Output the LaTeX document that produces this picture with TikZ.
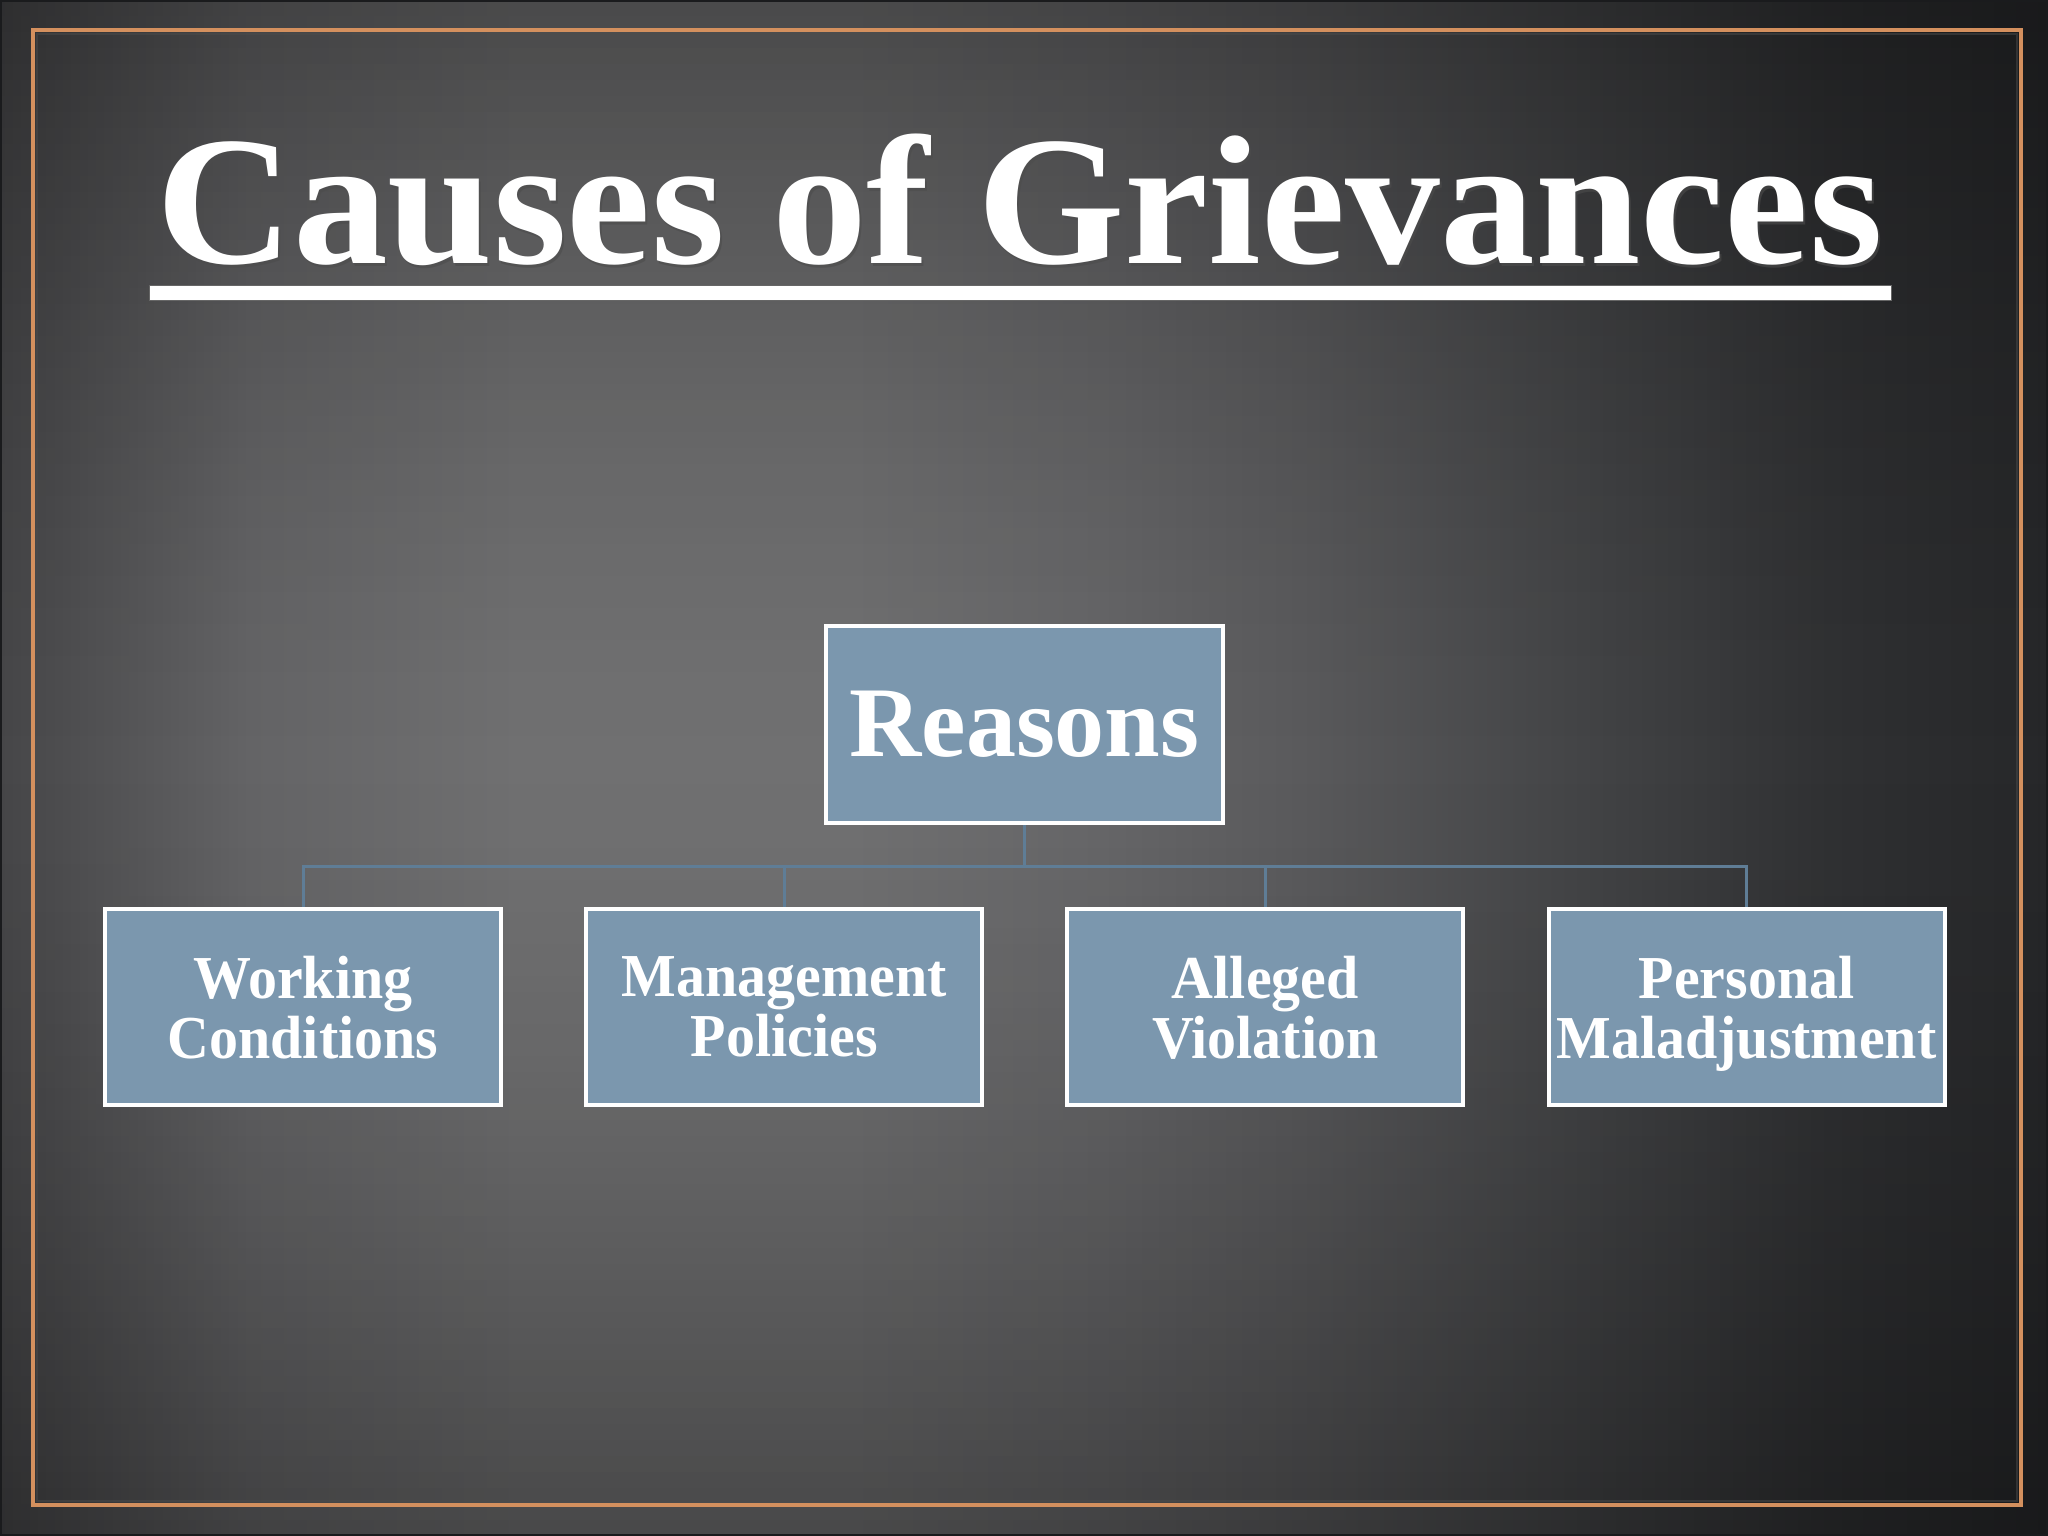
\documentclass[tikz,border=0pt]{standalone}
\usepackage{fontspec}
\setmainfont{Liberation Serif}
\newfontfamily\condserif[FakeStretch=0.95]{Liberation Serif}
\definecolor{edgeDark}{HTML}{1A1B1D}
\definecolor{frameOrange}{HTML}{D4905E}
\definecolor{boxFill}{HTML}{7B97AE}
\definecolor{linkBlue}{HTML}{5F7D96}
\definecolor{hA}{RGB}{70,70,72}
\definecolor{hB}{RGB}{100,100,102}
\definecolor{hC}{RGB}{112,112,113}
\definecolor{hD}{RGB}{102,102,104}
\definecolor{hE}{RGB}{90,90,92}
\definecolor{hF}{RGB}{68,69,71}
\definecolor{hG}{RGB}{48,49,51}
\definecolor{hH}{RGB}{38,39,41}
\pgfdeclarehorizontalshading{slidebase}{100bp}{%
  color(0bp)=(hA); color(25bp)=(hA); color(31.1bp)=(hB); color(37.7bp)=(hC);
  color(45.75bp)=(hC); color(51.86bp)=(hD); color(56.74bp)=(hE); color(63.33bp)=(hF);
  color(69.68bp)=(hG); color(75bp)=(hH); color(100bp)=(hH)}
\tikzset{
  boxbase/.style={draw=white, line width=4pt, fill=boxFill, rectangle, inner sep=0pt,
    text=white, align=center},
  rootbox/.style={boxbase, minimum width=397pt, minimum height=197pt,
    font=\bfseries\fontsize{100}{100}\selectfont},
  childbox/.style={boxbase, minimum width=396pt, minimum height=196pt, text depth=0pt,
    font=\condserif\bfseries\fontsize{61}{60}\selectfont},
  link/.style={draw=linkBlue, line width=3pt},
  titletext/.style={anchor=base west, inner sep=0pt,
    font=\bfseries\fontsize{184}{184}\selectfont, xscale=1.03},
}
\begin{document}
\begin{tikzpicture}[x=1pt,y=-1pt]
\useasboundingbox (0,0) rectangle (2048,1536);
\shade[shading=slidebase] (0,0) rectangle (2048,1536);
\foreach \k in {0,...,95}{
  \pgfmathsetmacro{\yy}{16*\k}
  \pgfmathsetmacro{\dd}{abs(\yy+8-760)+1}
  \pgfmathsetmacro{\op}{min(0.4,0.34*(\dd/760)^1.6)}
  \fill[black, fill opacity=\op] (0,\yy) rectangle (2048,\yy+16);
}
\draw[edgeDark, line width=4pt] (0,0) rectangle (2048,1536);
\draw[black!70, opacity=0.5, line width=1.5pt] (37,34) rectangle (2017,1501);
\draw[frameOrange, line width=4pt] (33,30) rectangle (2021,1505);
% title
\node[titletext, text=black!70, opacity=0.6] at (158,266) {Causes of Grievances};
\node (title) [titletext, text=white] at (156,263) {Causes of Grievances};
\draw[fill=white, draw=black!60, line width=1pt] (149,285) rectangle (1891,300);
% boxes
\node (r) [rootbox] at (1024.5,724.5) {Reasons};
\node (c1) [childbox] at (303,1007) {Working\\Conditions};
\node (c2) [childbox] at (784.2,1007) {Management\\Policies};
\node (c3) [childbox] at (1265.3,1007) {Alleged\\Violation};
\node (c4) [childbox] at (1746.5,1007) {Personal\\Maladjustment};
\coordinate (bus) at (1024.5,866);
\foreach \c in {c1,c2,c3,c4}{
  \draw[link] (r.south) -- (r.south |- bus) -| (\c.north);
}
\end{tikzpicture}
\end{document}
